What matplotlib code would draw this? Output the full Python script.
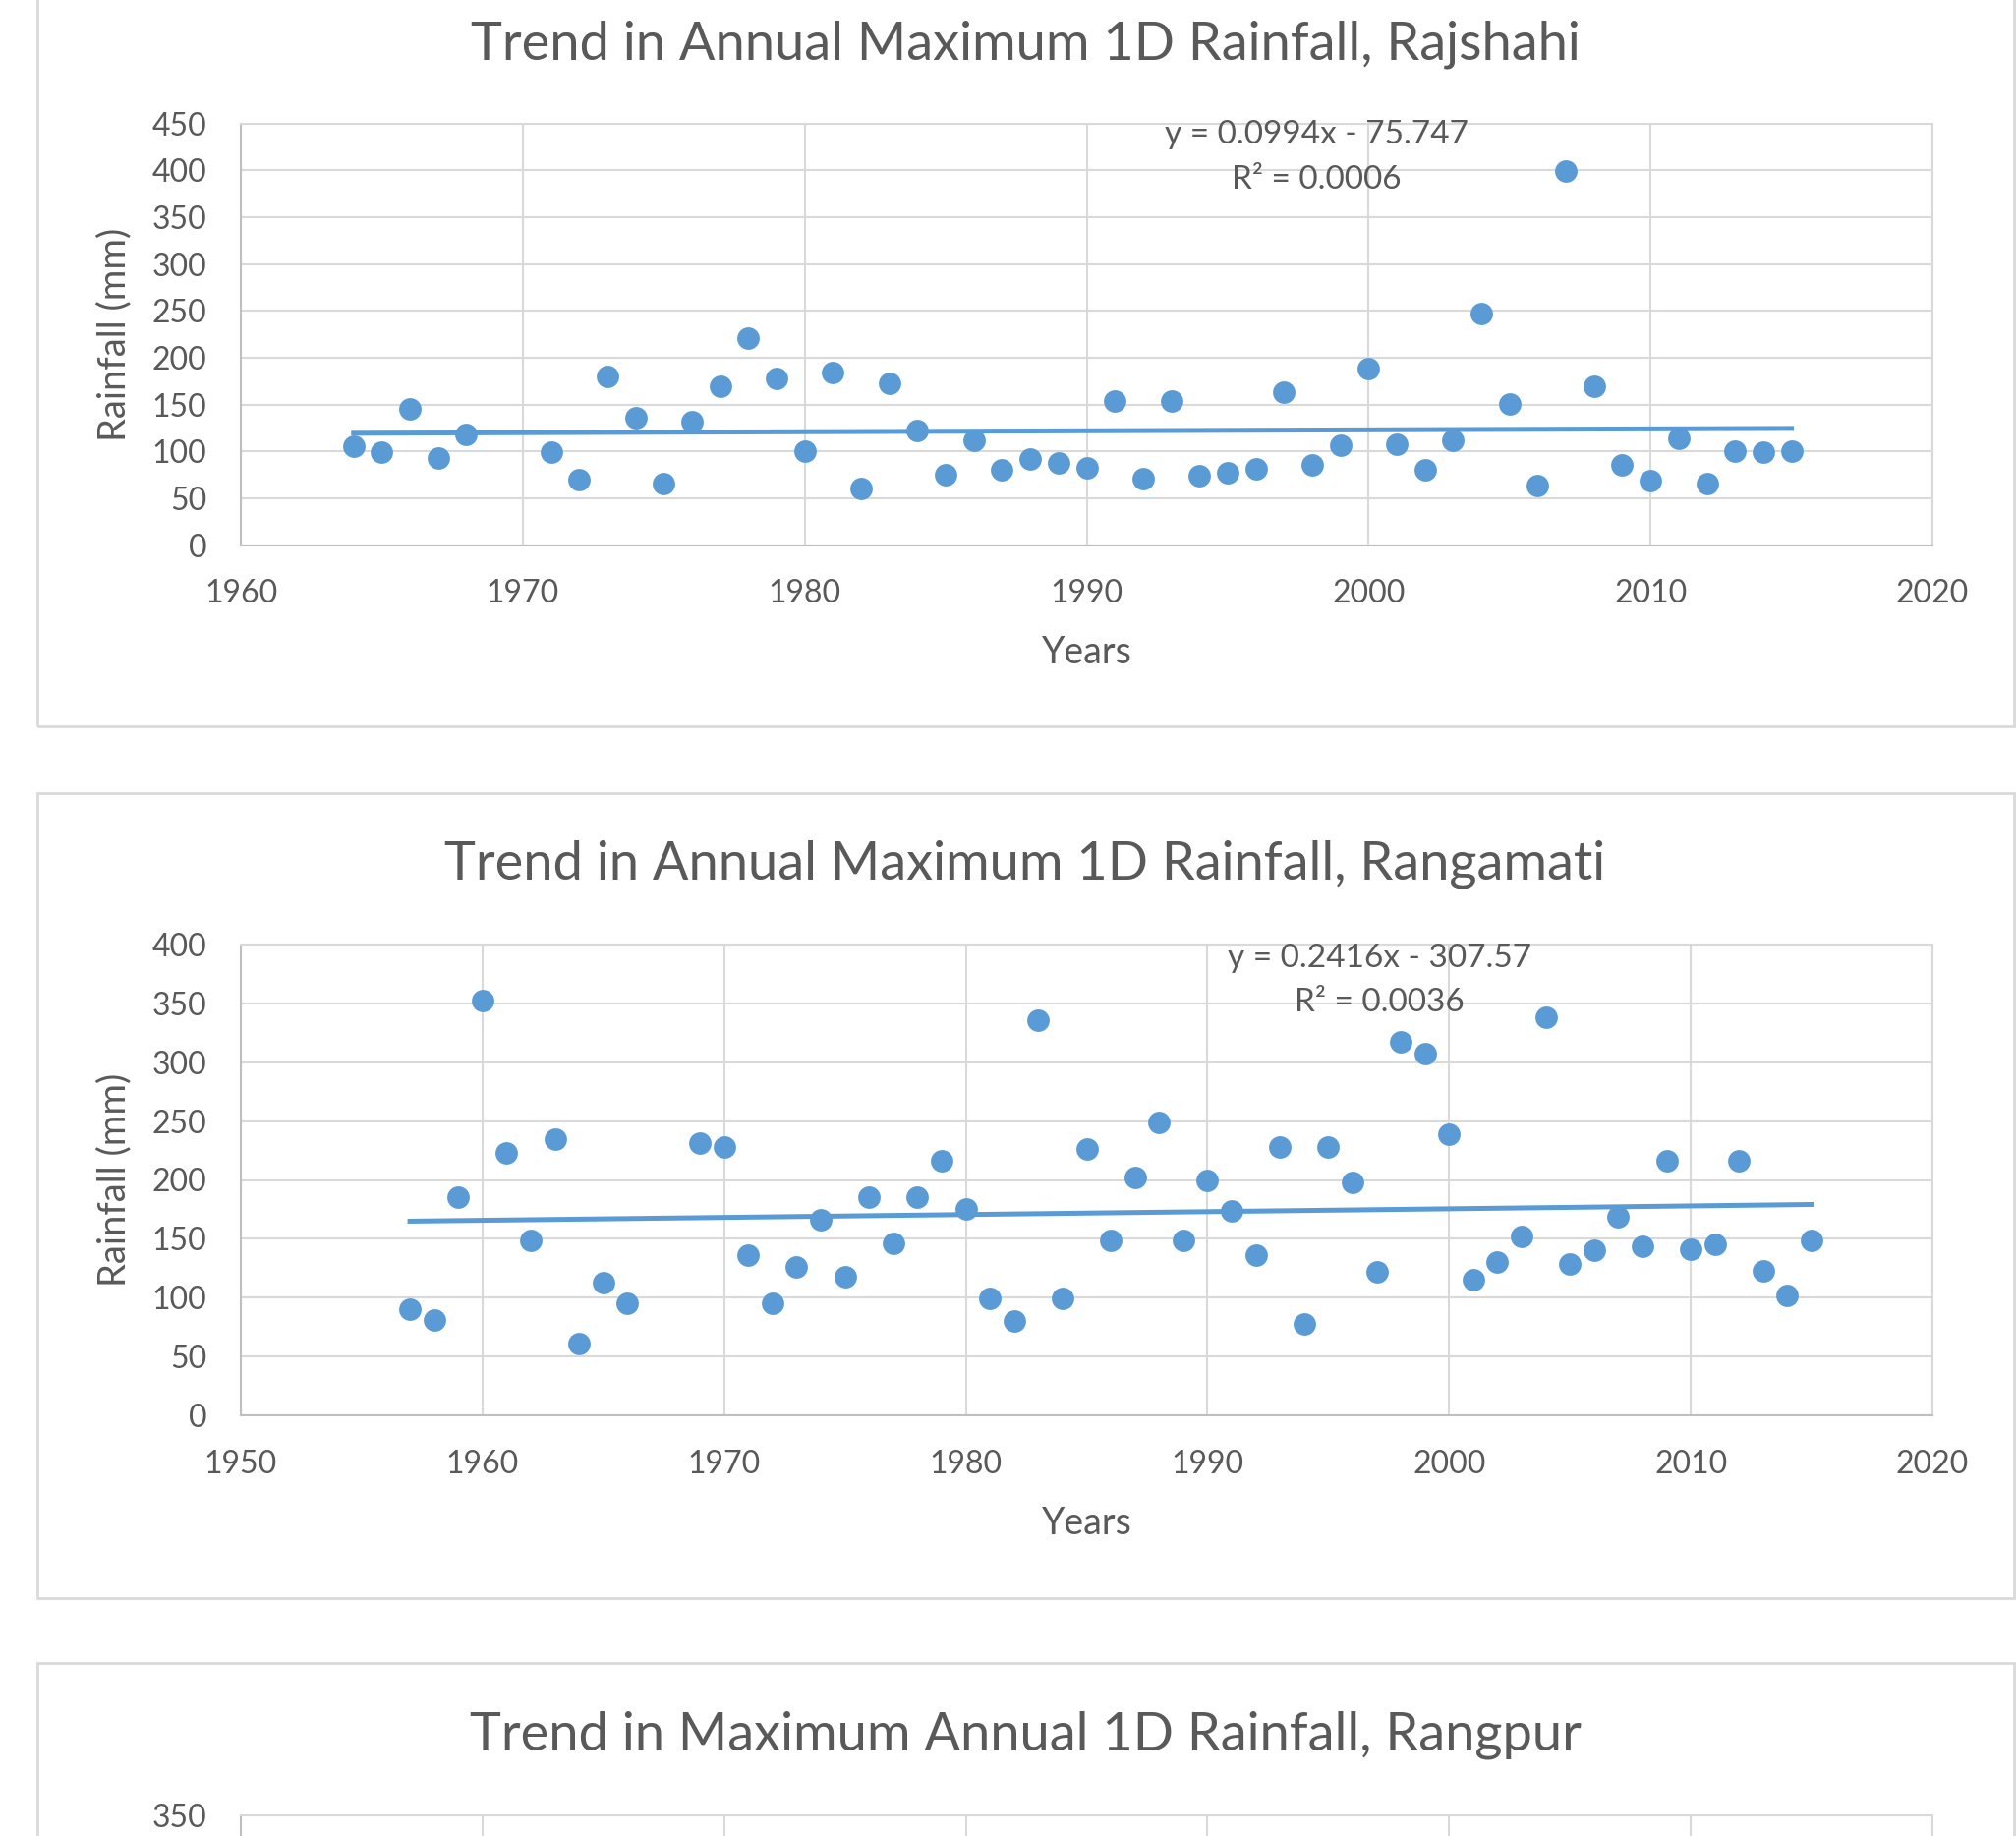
import numpy as np
import matplotlib
matplotlib.use("Agg")
import matplotlib.pyplot as plt
from matplotlib.patches import Rectangle

plt.rcParams["font.family"] = ["Lato", "DejaVu Sans"]

# Rajshahi
raj_years = [1964, 1965, 1966, 1967, 1968, 1971, 1972, 1973, 1974, 1975, 1976, 1977,
             1978, 1979, 1980, 1981, 1982, 1983, 1984, 1985, 1986, 1987, 1988, 1989,
             1990, 1991, 1992, 1993, 1994, 1995, 1996, 1997, 1998, 1999, 2000, 2001,
             2002, 2003, 2004, 2005, 2006, 2007, 2008, 2009, 2010, 2011, 2012, 2013,
             2014, 2015]
raj_rain = [106, 99, 145, 93, 118, 99, 70, 180, 136, 66, 132, 170,
            221, 178, 100, 184, 60, 173, 122, 75, 112, 80, 92, 88,
            82, 154, 71, 154, 74, 77, 81, 163, 86, 107, 188, 108,
            80, 112, 247, 151, 64, 399, 170, 86, 69, 114, 66, 100,
            99, 100]

# Rangamati
ran_years = [1957, 1958, 1959, 1960, 1961, 1962, 1963, 1964, 1965, 1966, 1969, 1970,
             1971, 1972, 1973, 1974, 1975, 1976, 1977, 1978, 1979, 1980, 1981, 1982,
             1983, 1984, 1985, 1986, 1987, 1988, 1989, 1990, 1991, 1992, 1993, 1994,
             1995, 1996, 1997, 1998, 1999, 2000, 2001, 2002, 2003, 2004, 2005, 2006,
             2007, 2008, 2009, 2010, 2011, 2012, 2013, 2014, 2015]
ran_rain = [90, 81, 185, 352, 223, 149, 235, 61, 113, 95, 231, 228,
            136, 95, 126, 166, 118, 185, 146, 185, 216, 175, 99, 80,
            336, 99, 226, 149, 202, 249, 149, 200, 174, 136, 228, 78,
            228, 198, 122, 317, 307, 239, 115, 130, 152, 338, 129, 140,
            169, 144, 216, 141, 145, 216, 123, 102, 149]

titles = ["Trend in Annual Maximum 1D Rainfall, Rajshahi",
          "Trend in Annual Maximum 1D Rainfall, Rangamati",
          "Trend in Maximum Annual 1D Rainfall, Rangpur"]
eq_lines = ["y = 0.0994x - 75.747", "y = 0.2416x - 307.57"]
r2_lines = ["R\u00b2 = 0.0006", "R\u00b2 = 0.0036"]

W, H = 2051, 1868
BLUE = "#5B9BD5"
GRID = "#D9D9D9"
TXT = "#595959"

fig = plt.figure(figsize=(W / 100, H / 100), dpi=100)


def px_rect(left, top, right, bottom):
    return [left / W, 1 - bottom / H, (right - left) / W, (bottom - top) / H]


def chart_box(top, bottom):
    fig.patches.append(Rectangle((38 / W, 1 - bottom / H), (2049 - 38) / W, (bottom - top) / H,
                                 transform=fig.transFigure, fill=False,
                                 edgecolor=GRID, linewidth=2))


def setup(ax, xlim, ylim, xlab_y=None):
    ax.set_xlim(*xlim)
    ax.set_ylim(*ylim)
    ax.set_xticks(np.arange(xlim[0], xlim[1] + 1, 10))
    ax.set_yticks(np.arange(ylim[0], ylim[1] + 1, 50))
    ax.grid(True, color=GRID, linewidth=1.5)
    ax.set_axisbelow(True)
    for s in ["top", "right"]:
        ax.spines[s].set_color(GRID)
        ax.spines[s].set_linewidth(1.5)
    for s in ["left", "bottom"]:
        ax.spines[s].set_color("#BFBFBF")
        ax.spines[s].set_linewidth(1.5)
    ax.tick_params(length=0, labelsize=23, labelcolor=TXT)
    ax.tick_params(axis="y", pad=25)
    ax.tick_params(axis="x", pad=25)
    if xlab_y is not None:
        ax.set_xlabel("Years", fontsize=27, color=TXT, va="center")
        ax.xaxis.set_label_coords(0.5, xlab_y)
        ax.set_ylabel("Rainfall (mm)", fontsize=27.5, color=TXT, va="center")
        ax.yaxis.set_label_coords(-0.0745, 0.5)


def trend(ax, x, y):
    x = np.array(x)
    k, b = np.polyfit(x, np.array(y), 1)
    xs = np.array([x.min(), x.max()])
    ax.plot(xs, k * xs + b, color=BLUE, linewidth=3.6, zorder=2)


def trend_label(ax, i, xf, y1, y2):
    ax.text(xf, y1, eq_lines[i], transform=ax.transAxes, ha="center", va="center",
            fontsize=24, color=TXT)
    ax.text(xf, y2, r2_lines[i], transform=ax.transAxes, ha="center", va="center",
            fontsize=24, color=TXT)


# chart 1
chart_box(-20, 739)
ax1 = fig.add_axes(px_rect(245, 125.6, 1966, 554.6))
setup(ax1, (1960, 2020), (0, 450), -0.255)
trend(ax1, raj_years, raj_rain)
ax1.scatter(raj_years, raj_rain, s=270, color=BLUE, zorder=3, linewidths=0)
trend_label(ax1, 0, 0.636, 0.973, 0.866)
fig.text(1043 / W, 1 - 60 / H, titles[0], ha="center", va="baseline", fontsize=39, color=TXT)

# chart 2
chart_box(807, 1626)
ax2 = fig.add_axes(px_rect(245, 961, 1966, 1440))
setup(ax2, (1950, 2020), (0, 400), -0.2296)
trend(ax2, ran_years, ran_rain)
ax2.scatter(ran_years, ran_rain, s=270, color=BLUE, zorder=3, linewidths=0)
trend_label(ax2, 1, 0.673, 0.971, 0.877)
fig.text(1043 / W, 1 - 894 / H, titles[1], ha="center", va="baseline", fontsize=39, color=TXT)

# chart 3, cut off at the bottom of the page: only its top is visible
chart_box(1692, 2500)
ax3 = fig.add_axes(px_rect(245, 1847, 1966, 2326))
setup(ax3, (1950, 2020), (0, 350))
ax3.tick_params(labelbottom=False)
ax3.set_yticks(np.arange(0, 351, 50), labels=["", "", "", "", "", "", "", "350"])
fig.text(1043 / W, 1 - 1781 / H, titles[2], ha="center", va="baseline", fontsize=39, color=TXT)

fig.savefig("out.png", dpi=100, facecolor="white")
